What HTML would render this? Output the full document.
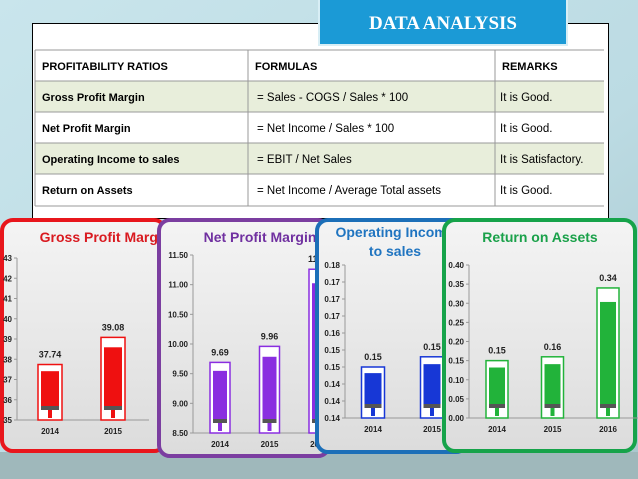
<!DOCTYPE html>
<html><head><meta charset="utf-8"><style>
html,body{margin:0;padding:0;width:638px;height:479px;overflow:hidden;}
body{font-family:"Liberation Sans",Arial,sans-serif;}
</style></head><body>
<svg id="s" width="638" height="479" xmlns="http://www.w3.org/2000/svg">
<defs>
<linearGradient id="bg" x1="0" y1="0" x2="1" y2="1"><stop offset="0" stop-color="#c9e5ec"/><stop offset="0.6" stop-color="#bcdbe3"/><stop offset="1" stop-color="#a8c7cd"/></linearGradient>
<linearGradient id="pf" x1="0" y1="0" x2="0" y2="1"><stop offset="0" stop-color="#f4f4f4"/><stop offset="1" stop-color="#dcdcdc"/></linearGradient>
</defs>
<rect width="638" height="479" fill="url(#bg)"/>
<rect x="0" y="452" width="638" height="27" fill="#9fb8bb"/>
<rect x="32.5" y="23.5" width="576" height="195" fill="#fff" stroke="#000"/>
<g font-family="Liberation Sans, sans-serif" font-size="11.5" fill="#000">
<rect x="35" y="81" width="569" height="31" fill="#e8eedb"/>
<rect x="35" y="143" width="569" height="31" fill="#e8eedb"/>
<g stroke="#999" stroke-width="1">
<line x1="35" y1="50" x2="604" y2="50"/><line x1="35" y1="81" x2="604" y2="81"/><line x1="35" y1="112" x2="604" y2="112"/><line x1="35" y1="143" x2="604" y2="143"/><line x1="35" y1="174" x2="604" y2="174"/><line x1="35" y1="206" x2="604" y2="206"/>
<line x1="35" y1="50" x2="35" y2="206"/><line x1="248" y1="50" x2="248" y2="206"/><line x1="495" y1="50" x2="495" y2="206"/>
</g>
<g font-weight="bold" font-size="11">
<text x="42" y="70">PROFITABILITY RATIOS</text>
<text x="255" y="70">FORMULAS</text>
<text x="502" y="70">REMARKS</text>
<text x="42" y="101">Gross Profit Margin</text>
<text x="42" y="132">Net Profit Margin</text>
<text x="42" y="163">Operating Income to sales</text>
<text x="42" y="194">Return on Assets</text>
</g>
<text x="257" y="101">= Sales - COGS / Sales * 100</text>
<text x="257" y="132">= Net Income / Sales * 100</text>
<text x="257" y="163">= EBIT / Net Sales</text>
<text x="257" y="194">= Net Income / Average Total assets</text>
<text x="500" y="101">It is Good.</text>
<text x="500" y="132">It is Good.</text>
<text x="500" y="163">It is Satisfactory.</text>
<text x="500" y="194">It is Good.</text>
</g>
<g>
<rect x="319" y="-2" width="248" height="47" fill="#1b9ad6" stroke="#d8eef5" stroke-width="2"/>
<text x="443" y="29" text-anchor="middle" fill="#fff" font-family="Liberation Serif, serif" font-weight="bold" font-size="19">DATA ANALYSIS</text>
</g>
<g id="charts"></g>
</svg>
<script>
const gpYears = ['2014','2015'];
const gpValues = [37.74, 39.08];
const gpTicks = [35,36,37,38,39,40,41,42,43];
const npYears = ['2014','2015','2016'];
const npValues = [9.69, 9.96, 11.26];
const npTicks = [8.5,9,9.5,10,10.5,11,11.5];
const oiYears = ['2014','2015'];
const oiValues = [0.150, 0.153];
const oiTicks = [0.135,0.14,0.145,0.15,0.155,0.16,0.165,0.17,0.175,0.18];
const roaYears = ['2014','2015','2016'];
const roaValues = [0.15, 0.16, 0.34];
const roaTicks = [0,0.05,0.1,0.15,0.2,0.25,0.3,0.35,0.4];

const NS='http://www.w3.org/2000/svg';
const root=document.getElementById('charts');
function mk(tag,attrs,parent){const e=document.createElementNS(NS,tag);for(const k in attrs)e.setAttribute(k,attrs[k]);(parent||root).appendChild(e);return e;}

function chart(c){
  const g=mk('g',{});
  
  
  const p=mk('rect',{x:c.px,y:c.py,width:c.pw,height:c.ph,rx:11,fill:'url(#pf)',stroke:c.border,'stroke-width':4},g);
  
  
  c.title.forEach((t,i)=>{
    const tt=mk('text',{x:c.tx,y:c.ty+i*19,'text-anchor':'middle',fill:c.tcol,'font-weight':'bold','font-size':14},g);
    tt.textContent=t;
    
    
  });
  const min=c.ticks[0],max=c.ticks[c.ticks.length-1];
  const y=v=>c.yb-(v-min)/(max-min)*(c.yb-c.yt);
  const x=i=>c.x0+i*c.step;
  mk('line',{x1:c.ax,y1:c.yt,x2:c.ax,y2:c.yb,stroke:'#999'},g);
  mk('line',{x1:c.ax,y1:c.yb,x2:c.ax+c.step*c.years.length+6,y2:c.yb,stroke:'#999'},g);
  c.ticks.forEach(t=>{
    mk('line',{x1:c.ax-3,y1:y(t),x2:c.ax,y2:y(t),stroke:'#999'},g);
    const tl=mk('text',{x:c.ax-5,y:y(t)+3,'text-anchor':'end','font-size':8,'font-weight':'bold',fill:'#222'},g);
    tl.textContent=t.toFixed(c.dec);
    
    
  });
  c.values.forEach((v,i)=>{
    const cx=x(i),w=c.bw,top=y(v),h=c.yb-top,l=cx-w/2;
    const b=mk('g',{},g);
    
    
    mk('rect',{x:l,y:top,width:w,height:h,fill:'#fff',stroke:c.bar,'stroke-width':1.5},b);
    const ft=top+Math.min(h*0.12,14);
    mk('rect',{x:l+3,y:ft,width:w-6,height:Math.max(0,c.yb-14-ft),fill:c.bar},b);
    mk('rect',{x:l+3,y:c.yb-14,width:w-6,height:4,fill:'#555'},b);
    mk('rect',{x:cx-2,y:c.yb-10,width:4,height:8,fill:c.bar},b);
    const vl=mk('text',{x:cx,y:top-7,'text-anchor':'middle','font-size':9,'font-weight':'bold',fill:'#222'},g);
    vl.textContent=v.toFixed(2);
    
    
    const xl=mk('text',{x:cx,y:c.yb+14,'text-anchor':'middle','font-size':8,'font-weight':'bold',fill:'#222'},g);
    xl.textContent=c.years[i];
    
    
  });
}
chart({name:'gross-profit-chart',px:2,py:220,pw:163,ph:231,border:'#e8161c',title:['Gross Profit Margin'],tx:105,ty:242,tcol:'#d91a20',
  ticks:gpTicks,dec:0,years:gpYears,values:gpValues,ax:17,yt:258,yb:420,x0:50,step:63,bw:24,bar:'#ef1010'});
chart({name:'net-profit-chart',px:159,py:220,pw:170,ph:236,border:'#7b3ea0',title:['Net Profit Margin'],tx:260,ty:242,tcol:'#7030a0',
  ticks:npTicks,dec:2,years:npYears,values:npValues,ax:193,yt:255,yb:433,x0:220,step:49.5,bw:20,bar:'#8a2ee0'});
chart({name:'operating-income-chart',px:317,py:220,pw:150,ph:232,border:'#1c6fb8',title:['Operating Income','to sales'],tx:395,ty:237,tcol:'#1f74c0',
  ticks:oiTicks,dec:2,years:oiYears,values:oiValues,ax:345,yt:265,yb:418,x0:373,step:59,bw:23,bar:'#1737d6'});
chart({name:'return-on-assets-chart',px:444,py:220,pw:191,ph:231,border:'#16a34a',title:['Return on Assets'],tx:540,ty:242,tcol:'#1aa14a',
  ticks:roaTicks,dec:2,years:roaYears,values:roaValues,ax:469,yt:265,yb:418,x0:497,step:55.5,bw:22,bar:'#22b33a'});
</script>
</body></html>
